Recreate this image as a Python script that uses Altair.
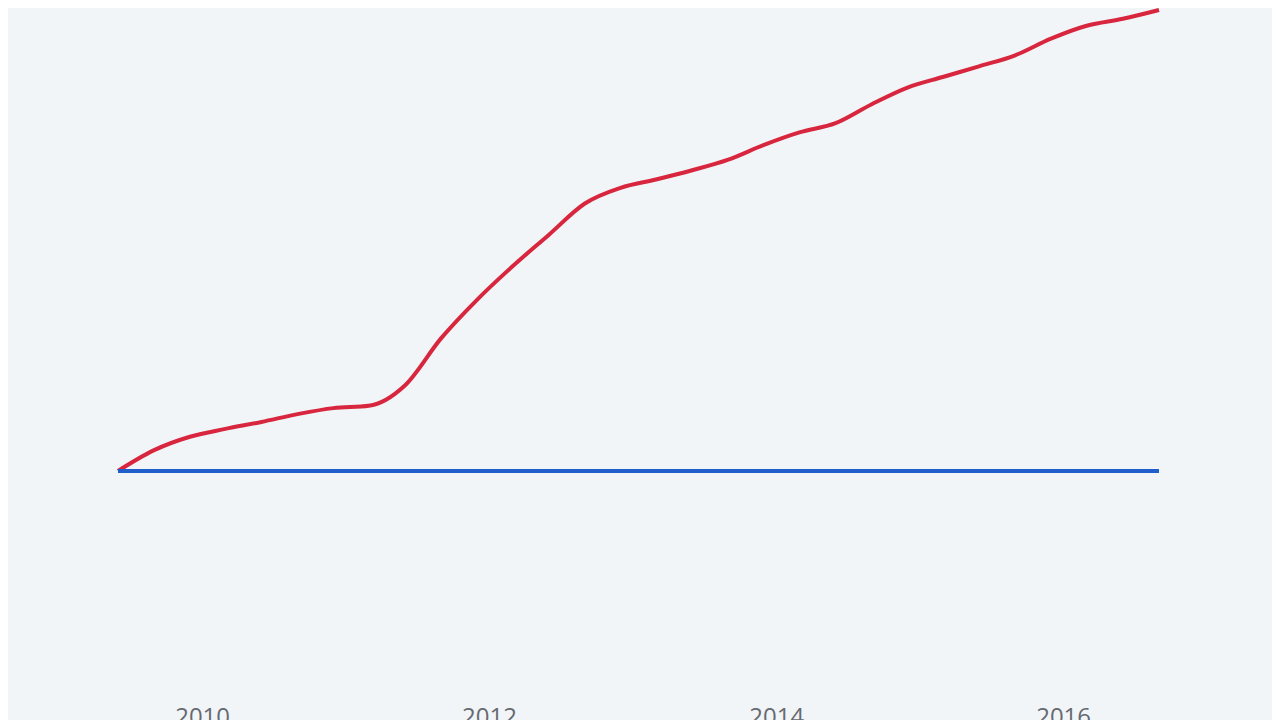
import altair as alt
import pandas as pd

dates = [
    "2009-06-01", "2009-09-01", "2009-12-01", "2010-03-01", "2010-06-01",
    "2010-09-01", "2010-12-01", "2011-03-01", "2011-06-01", "2011-09-01",
    "2011-12-01", "2012-03-01", "2012-06-01", "2012-09-01", "2012-12-01",
    "2013-03-01", "2013-06-01", "2013-09-01", "2013-12-01", "2014-03-01",
    "2014-06-01", "2014-09-01", "2014-12-01", "2015-03-01", "2015-06-01",
    "2015-09-01", "2015-12-01", "2016-03-01", "2016-06-01", "2016-09-01",
]
red_values = [
    0.0, 4.5, 7.4, 9.1, 10.6,
    12.3, 13.6, 14.1, 18.5, 28.7,
    37.0, 44.3, 51.1, 57.9, 61.3,
    63.1, 65.1, 67.4, 70.6, 73.3,
    75.3, 79.4, 83.0, 85.3, 87.6,
    90.0, 93.6, 96.4, 97.9, 99.8,
]
baseline_value = 0.0
year_ticks = ["2010-01-01", "2012-01-01", "2014-01-01", "2016-01-01"]

red_df = pd.DataFrame({"date": dates, "value": red_values})
blue_df = pd.DataFrame({"date": [dates[0], dates[-1]],
                        "value": [baseline_value, baseline_value]})

x_enc = alt.X(
    "date:T",
    title=None,
    scale=alt.Scale(nice=False, padding=0),
    axis=alt.Axis(
        values=[alt.DateTime(year=int(d[:4]), month=1, date=1) for d in year_ticks],
        format="%Y",
        grid=False,
        domain=False,
        ticks=False,
        labelFont="Open Sans",
        labelFontSize=24,
        labelColor="#666a70",
        labelPadding=5,
    ),
)
y_scale = alt.Scale(domain=[-49.6, 99.8], nice=False, zero=False)
y_enc = alt.Y("value:Q", title=None, scale=y_scale, axis=None)

red = alt.Chart(red_df).mark_line(
    color="#d7263d", strokeWidth=4, interpolate="monotone", clip=False
).encode(x=x_enc, y=y_enc)

blue = alt.Chart(blue_df).mark_line(
    color="#1f5ecb", strokeWidth=4, clip=False
).encode(x=x_enc, y=y_enc)

chart = (
    alt.layer(red, blue)
    .properties(
        width=1041,
        height=690,
        autosize=alt.AutoSizeParams(type="none"),
        padding={"left": 110, "top": 2, "right": 113, "bottom": 40},
        background="#f1f5f8",
    )
    .configure_view(stroke=None, fill="#f1f5f8")
)

chart.save("out.html", embed_options={"renderer": "svg", "actions": False})
